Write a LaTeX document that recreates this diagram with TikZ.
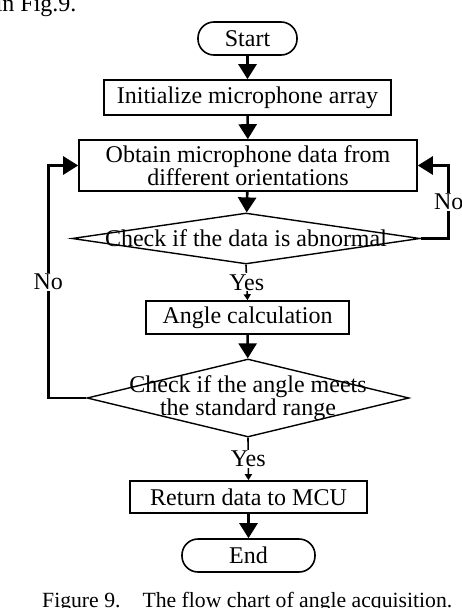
\documentclass[tikz,border=0pt]{standalone}
\usepackage{fontspec}
\setmainfont{Liberation Serif}
\usetikzlibrary{arrows.meta,shapes.geometric}
\begin{document}
\begin{tikzpicture}[x=1pt,y=-1pt,
  every node/.style={font=\fontsize{24}{23}\selectfont},
  box/.style={draw,line width=1.6pt,inner sep=0pt,align=center},
  term/.style={box,rounded corners=16pt},
  dia/.style={draw,diamond,line width=1.4pt,inner sep=0pt},
  lbl/.style={fill=white,inner sep=1pt},
  arr/.style={line width=2.6pt,-{Triangle[length=15pt,width=18pt]}},
  arrs/.style={line width=1.6pt,-{Triangle[length=6pt,width=7pt]}},
]
\useasboundingbox (0,0) rectangle (462,608);
\node[anchor=base east] (prev) at (80,11) {in Fig.9.};

\node[term,minimum width=99pt,minimum height=33pt] (start) at (247.5,38.5) {Start};
\node[box,minimum width=287pt,minimum height=35pt] (init) at (247.5,97.5) {Initialize microphone array};
\node[box,minimum width=338pt,minimum height=51pt] (obtain) at (248,165.5) {Obtain microphone data from\\different orientations};
\node[dia,minimum width=348pt,minimum height=51pt] (d1) at (246,238.5) {};
\node (d1t) at (d1) {Check if the data is abnormal};
\node[box,minimum width=203pt,minimum height=33pt] (angle) at (247.5,317.5) {Angle calculation};
\node[dia,minimum width=322pt,minimum height=78pt] (d2) at (248,398) {};
\node[align=center] (d2t) at (d2) {Check if the angle meets\\the standard range};
\node[box,minimum width=237pt,minimum height=32pt] (ret) at (248.5,497) {Return data to MCU};
\node[term,minimum width=133pt,minimum height=33pt] (stop) at (248.5,555.5) {End};

\draw[arr] (start) -- (init);
\draw[arr] (init) -- (obtain);
\draw[arr] (obtain) -- (d1);
\draw[arrs] (d1.south) -- (angle.north) node[midway,lbl] (yes1) {Yes};
\draw[arr] (angle) -- (d2);
\draw[arrs] (d2.south) -- (ret.north) node[midway,lbl] (yes2) {Yes};
\draw[arr] (ret) -- (stop);
\draw[arr] (d1.east) -- ++(28,0) |- node[pos=0.25,lbl] (no1) {No} (obtain.east);
\draw[arr] (d2.west) -- ++(-38,0) |- node[pos=0.25,lbl] (no2) {No} (obtain.west);

\node[anchor=base west,inner sep=0pt,font=\fontsize{21.7}{23}\selectfont] (cap) at (42,607.5) {Figure 9.\hspace{22pt}The flow chart of angle acquisition.};
\end{tikzpicture}
\end{document}
